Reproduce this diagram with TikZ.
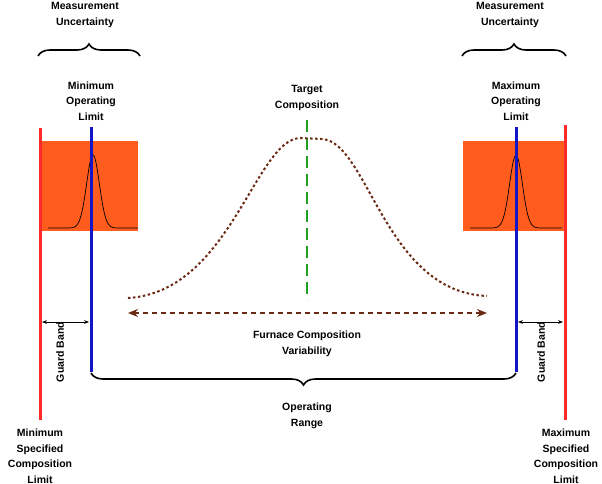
\documentclass[tikz,border=0pt]{standalone}
\usepackage{fontspec}
\setmainfont{Liberation Sans}
\usetikzlibrary{decorations.pathreplacing,arrows.meta}
\definecolor{myred}{HTML}{FF2A2A}
\definecolor{myblue}{HTML}{1515C8}
\definecolor{myorange}{HTML}{FF5C1E}
\definecolor{mygreen}{HTML}{22A022}
\definecolor{mybrown}{HTML}{6B2A14}
\begin{document}
\begin{tikzpicture}[x=1pt,y=-1pt,
  lbl/.style={font=\bfseries\fontsize{10.5}{15.5}\selectfont,align=center,inner sep=0pt},
  redline/.style={myred,line width=3pt},
  blueline/.style={myblue,line width=3pt},
  bracestyle/.style={line width=1.6pt,decorate,decoration={brace,amplitude=12pt}},
  gb/.style={{Stealth[length=5pt]}-{Stealth[length=5pt]},line width=0.6pt}]
\useasboundingbox (0,0) rectangle (602,484);
\fill[myorange] (40,141) rectangle (138,231);
\fill[myorange] (463,141) rectangle (564,231);
\draw[line width=0.7pt] plot[domain=48:138,samples=80,smooth] (\x,{228-73*exp(-((\x-93)/9)^2)});
\draw[line width=0.7pt] plot[domain=470:562,samples=80,smooth] (\x,{228-73*exp(-((\x-516)/9)^2)});
\coordinate (lr1) at (40,128); \coordinate (lr2) at (40,420);
\coordinate (lb1) at (91,127); \coordinate (lb2) at (91,372);
\coordinate (rr1) at (565,125); \coordinate (rr2) at (565,420);
\coordinate (rb1) at (516,127); \coordinate (rb2) at (516,372);
\draw[redline] (lr1) -- (lr2);
\draw[redline] (rr1) -- (rr2);
\draw[blueline] (lb1) -- (lb2);
\draw[blueline] (rb1) -- (rb2);
\coordinate (tb1) at (38,56); \coordinate (tb2) at (140,56);
\coordinate (tb3) at (462,56); \coordinate (tb4) at (566,56);
\draw[bracestyle] (tb1) -- (tb2);
\draw[bracestyle] (tb3) -- (tb4);
\coordinate (bb1) at (516,373); \coordinate (bb2) at (91,373);
\draw[bracestyle] (bb1) -- (bb2);
\coordinate (g1) at (307,120); \coordinate (g2) at (307,300);
\draw[mygreen,line width=2.2pt,dash pattern=on 12pt off 6pt] (g1) -- (g2);
\draw[mybrown,line width=2pt,dash pattern=on 2.5pt off 2.5pt]
  (128,298) .. controls (230,292) and (255,140) .. (300,138) -- (322,139)
  .. controls (368,142) and (385,292) .. (487,296);
\coordinate (a1) at (128,313); \coordinate (a2) at (487,313);
\draw[mybrown,line width=2pt,dash pattern=on 5pt off 4pt,{Stealth[length=10pt,width=8pt]}-{Stealth[length=10pt,width=8pt]}] (a1) -- (a2);
\coordinate (ga1) at (42,322); \coordinate (ga2) at (89,322);
\coordinate (ga3) at (518,322); \coordinate (ga4) at (563,322);
\draw[gb] (ga1) -- (ga2);
\draw[gb] (ga3) -- (ga4);
\node[lbl] (mu1) at (85,15) {Measurement\\Uncertainty};
\node[lbl] (mu2) at (510,15) {Measurement\\Uncertainty};
\node[lbl] (mol) at (91,101) {Minimum\\Operating\\Limit};
\node[lbl] (xol) at (516,101) {Maximum\\Operating\\Limit};
\node[lbl] (tc) at (307,98) {Target\\Composition};
\node[lbl] (fcv) at (307,344) {Furnace Composition\\Variability};
\node[lbl] (or) at (307,416) {Operating\\Range};
\node[lbl,rotate=90] (gb1) at (60,352) {Guard Band};
\node[lbl,rotate=90] (gb2) at (541,352) {Guard Band};
\node[lbl] (msl) at (40,456) {Minimum\\Specified\\Composition\\Limit};
\node[lbl] (xsl) at (566,456) {Maximum\\Specified\\Composition\\Limit};
\end{tikzpicture}
\end{document}
